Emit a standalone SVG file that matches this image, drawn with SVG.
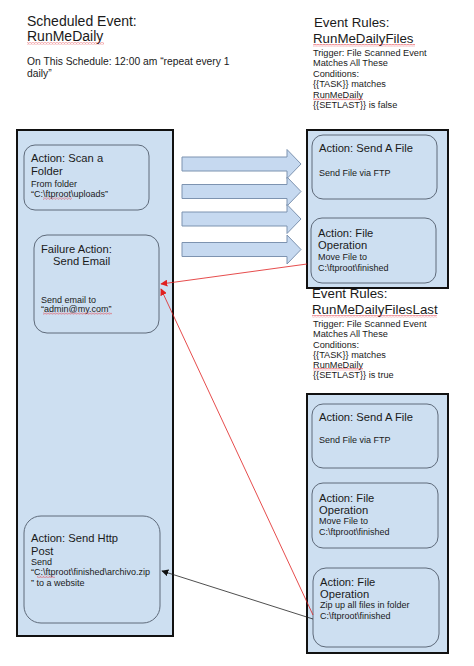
<svg xmlns="http://www.w3.org/2000/svg" width="474" height="666" viewBox="0 0 474 666">
<style>
text{font-family:"Liberation Sans",Arial,sans-serif;fill:#1a1a1a}
.h1{font-size:14px}
.h2{font-size:13.3px}
.t{font-size:11.2px}
.s{font-size:9px}
.c{font-size:9.2px}
.sch{font-size:10.3px}
.cont{fill:#cddff1;stroke:#111;stroke-width:2}
.box{fill:#cddff1;stroke:#5e6a7a;stroke-width:1}
.blk{fill:#c6d9f0;stroke:#7d93b0;stroke-width:1}
.sq{fill:url(#sq)}
</style>
<defs>
<pattern id="sq" width="3" height="2.4" patternUnits="userSpaceOnUse">
<path d="M0,2 L1.5,0.5 L3,2" fill="none" stroke="#e0303a" stroke-width="0.7"/>
</pattern>
<marker id="ar" viewBox="0 0 10 10" refX="9" refY="5" markerWidth="7" markerHeight="7" markerUnits="userSpaceOnUse" orient="auto">
<path d="M0,0 L10,5 L0,10 z" fill="#e02020"/>
</marker>
<marker id="ab" viewBox="0 0 10 10" refX="9" refY="5" markerWidth="7" markerHeight="7" markerUnits="userSpaceOnUse" orient="auto">
<path d="M0,0 L10,5 L0,10 z" fill="#111"/>
</marker>
</defs>
<rect width="474" height="666" fill="#fff"/>

<g id="scheduled-event">
<text class="h1" x="27" y="26">Scheduled Event:</text>
<text class="h1" x="27" y="41">RunMeDaily</text>
<rect class="sq" x="27" y="42" width="77" height="2.4"/>
<text class="sch" x="27" y="65">On This Schedule: 12:00 am “repeat every 1</text>
<text class="sch" x="27" y="76.5">daily”</text>
</g>

<g id="event-rules-files">
<text class="h2" x="314" y="27">Event Rules:</text>
<text class="h2" x="313" y="43">RunMeDailyFiles</text>
<rect class="sq" x="313" y="44" width="102" height="2.4"/>
<text class="c" x="313" y="56">Trigger: File Scanned Event</text>
<text class="c" x="313" y="66">Matches All These</text>
<text class="c" x="313" y="76.5">Conditions:</text>
<text class="c" x="313" y="87">{{TASK}} matches</text>
<text class="c" x="313" y="97.5">RunMeDaily</text>
<rect class="sq" x="313" y="98" width="50" height="2.4"/>
<text class="c" x="313" y="108">{{SETLAST}} is false</text>
</g>

<g id="event-rules-files-last">
<text class="h2" x="312" y="298">Event Rules:</text>
<text class="h2" x="312" y="314">RunMeDailyFilesLast</text>
<rect class="sq" x="312" y="315" width="125" height="2.4"/>
<text class="c" x="313" y="327">Trigger: File Scanned Event</text>
<text class="c" x="313" y="337">Matches All These</text>
<text class="c" x="313" y="347.5">Conditions:</text>
<text class="c" x="313" y="358">{{TASK}} matches</text>
<text class="c" x="313" y="367.5">RunMeDaily</text>
<rect class="sq" x="313" y="368" width="50" height="2.4"/>
<text class="c" x="313" y="378">{{SETLAST}} is true</text>
</g>

<g id="left-container">
<rect class="cont" x="17" y="130" width="156" height="506"/>
</g>
<g id="right-container-1">
<rect class="cont" x="307" y="130" width="141" height="158"/>
</g>
<g id="right-container-2">
<rect class="cont" x="307" y="394" width="141" height="259"/>
</g>

<g id="scan-folder">
<rect class="box" x="24" y="145" width="125" height="65" rx="11"/>
<text class="t" x="31" y="162">Action: Scan a</text>
<text class="t" x="31" y="175">Folder</text>
<text class="s" x="31" y="187">From folder</text>
<text class="s" x="31" y="197">“C:\ftproot\uploads”</text>
<rect class="sq" x="43" y="197.5" width="29" height="2.4"/>
</g>

<g id="failure-send-email">
<rect class="box" x="34" y="235" width="125" height="98" rx="13"/>
<text class="t" x="41" y="253">Failure Action:</text>
<text class="t" x="53" y="265">Send Email</text>
<text class="s" x="41" y="303">Send email to</text>
<text class="s" x="41" y="312">“admin@my.com”</text>
<rect class="sq" x="43" y="312.5" width="69" height="2.4"/>
</g>

<g id="send-http-post">
<rect class="box" x="24" y="516" width="136" height="107" rx="17"/>
<text class="t" x="31" y="542">Action: Send Http</text>
<text class="t" x="31" y="555">Post</text>
<text class="s" x="31" y="565">Send</text>
<text class="s" x="31" y="575">“C:\ftproot\finished\archivo.zip</text>
<rect class="sq" x="37" y="575.5" width="18" height="2.4"/>
<text class="s" x="31" y="586">” to a website</text>
</g>

<g id="send-file-1">
<rect class="box" x="312" y="135" width="125" height="64" rx="11"/>
<text class="t" x="319" y="152">Action: Send A File</text>
<text class="s" x="319" y="176">Send File via FTP</text>
</g>

<g id="file-op-1">
<rect class="box" x="311" y="218" width="125" height="65" rx="11"/>
<text class="t" x="318" y="237">Action: File</text>
<text class="t" x="318" y="249">Operation</text>
<text class="s" x="318" y="260">Move File to</text>
<text class="s" x="318" y="271">C:\ftproot\finished</text>
</g>

<g id="send-file-2">
<rect class="box" x="312" y="404" width="126" height="64" rx="11"/>
<text class="t" x="319" y="421">Action: Send A File</text>
<text class="s" x="319" y="443">Send File via FTP</text>
</g>

<g id="file-op-2">
<rect class="box" x="312" y="483" width="126" height="65" rx="11"/>
<text class="t" x="319" y="502">Action: File</text>
<text class="t" x="319" y="514">Operation</text>
<text class="s" x="319" y="524">Move File to</text>
<text class="s" x="319" y="535">C:\ftproot\finished</text>
</g>

<g id="file-op-3">
<rect class="box" x="313" y="568" width="126" height="79" rx="13"/>
<text class="t" x="320" y="586">Action: File</text>
<text class="t" x="320" y="598">Operation</text>
<text class="s" x="320" y="608">Zip up all files in folder</text>
<text class="s" x="320" y="619">C:\ftproot\finished</text>
</g>

<g id="connectors">
<path class="blk" d="M182,157 H287 V149.5 L301,164 L287,178.5 V171 H182 Z"/>
<path class="blk" d="M182,184.5 H287 V177 L301,191.5 L287,206 V198.5 H182 Z"/>
<path class="blk" d="M182,212 H287 V204.5 L301,219 L287,233.5 V226 H182 Z"/>
<path class="blk" d="M182,242.5 H287 V235 L301,249.5 L287,264 V256.5 H182 Z"/>
<line x1="307" y1="264" x2="161" y2="284" stroke="#e02020" stroke-width="0.8" marker-end="url(#ar)"/>
<line x1="313" y1="615" x2="161" y2="289" stroke="#e02020" stroke-width="0.8" marker-end="url(#ar)"/>
<line x1="313" y1="619" x2="162" y2="571" stroke="#222" stroke-width="0.8" marker-end="url(#ab)"/>
</g>
</svg>
